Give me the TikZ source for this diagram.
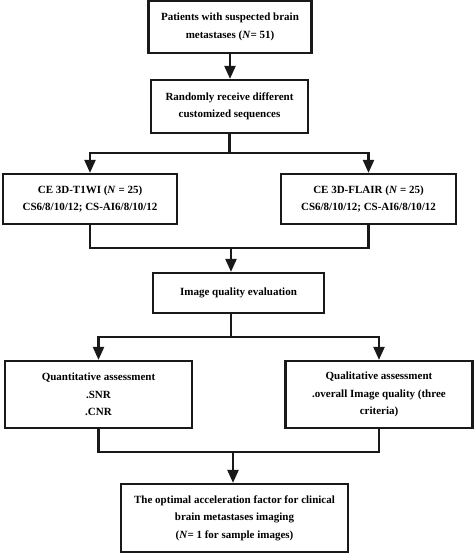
\documentclass[tikz,border=0pt]{standalone}
\usepackage{fontspec}
\setmainfont{Liberation Serif}
\usetikzlibrary{arrows.meta}
\begin{document}
\begin{tikzpicture}[x=1pt,y=-1pt,
  box/.style={draw=black!90,line width=2.2pt,fill=white,align=center,
    font=\bfseries\fontsize{11}{17.5}\selectfont,inner sep=0pt},
  link/.style={draw=black!90,line width=2.2pt},
  arr/.style={link,-{Triangle[length=13pt,width=11pt]}}]
\useasboundingbox (0,0) rectangle (474,555);
\node[box,minimum width=163pt,minimum height=52pt] (b1) at (230,27) {Patients with suspected brain\\metastases (\textit{N}= 51)};
\node[box,minimum width=157pt,minimum height=53pt] (b2) at (229.5,106.5) {Randomly receive different\\customized sequences};
\node[box,minimum width=174pt,minimum height=50pt] (b3L) at (90,199) {CE 3D-T1WI (\textit{N} = 25)\\CS6/8/10/12; CS-AI6/8/10/12};
\node[box,minimum width=175pt,minimum height=50pt] (b3R) at (368.5,199) {CE 3D-FLAIR (\textit{N} = 25)\\CS6/8/10/12; CS-AI6/8/10/12};
\node[box,minimum width=171pt,minimum height=40pt] (b4) at (238.5,293) {Image quality evaluation};
\node[box,minimum width=187pt,minimum height=67pt] (b5L) at (98.5,394.5) {Quantitative assessment\\.SNR\\.CNR};
\node[box,minimum width=187pt,minimum height=67pt] (b5R) at (379,394.5) {Qualitative assessment\\.overall Image quality (three\\criteria)};
\node[box,minimum width=227pt,minimum height=68pt] (b6) at (234.5,518) {The optimal acceleration factor for clinical\\brain metastases imaging\\(\textit{N}= 1 for sample images)};
\coordinate (s1) at (229.5,153);
\coordinate (j1) at (231,248);
\coordinate (j2) at (231,337);
\coordinate (j3) at (233,452);
\draw[arr] (b1.south) -- (b1.south |- b2.north);
\draw[link] (b2.south) -- (s1);
\draw[arr] (s1) -| (b3L.north);
\draw[arr] (s1) -| (b3R.north);
\draw[link] (b3L.south) |- (j1) -| (b3R.south);
\draw[arr] (j1) -- (j1 |- b4.north);
\draw[link] (j2 |- b4.south) -- (j2);
\draw[arr] (j2) -| (b5L.north);
\draw[arr] (j2) -| (b5R.north);
\draw[link] (b5L.south) |- (j3) -| (b5R.south);
\draw[arr] (j3) -- (j3 |- b6.north);
\end{tikzpicture}
\end{document}
